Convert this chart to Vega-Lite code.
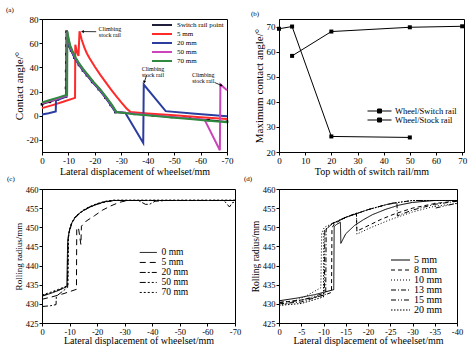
{
"$schema":"https://vega.github.io/schema/vega-lite/v6.json",
"padding":{"left":5,"top":5,"right":0,"bottom":0},
"background":"white",
"columns":2,
"align":"none",
"bounds":"flush",
"spacing":{"row":37,"column":44},
"resolve":{"scale":{"x":"independent","y":"independent","color":"independent","strokeDash":"independent"},"legend":{"color":"independent","strokeDash":"independent"}},
"config":{
 "font":"Liberation Serif",
 "view":{"stroke":"black","strokeWidth":1},
 "axis":{"grid":false,"domainColor":"black","tickColor":"black","labelColor":"black","titleColor":"black","labelFont":"Liberation Serif","titleFont":"Liberation Serif","titleFontWeight":"normal","labelFontSize":9,"titleFontSize":10,"tickSize":3,"labelPadding":1,"titlePadding":2,"labelFlush":false,"labelOverlap":false},
 "legend":{"labelFont":"Liberation Serif","labelColor":"black","orient":"none","title":null},
 "title":{"font":"Liberation Serif","fontWeight":"normal","color":"black","fontSize":7,"anchor":"start","frame":"group"}
},
"datasets":{
"A":[
{"s":"Switch rail point","x":0,"y":9.5},{"s":"Switch rail point","x":-3,"y":11.5},{"s":"Switch rail point","x":-6,"y":13.5},{"s":"Switch rail point","x":-9.1,"y":16},{"s":"Switch rail point","x":-9.1,"y":23},{"s":"Switch rail point","x":-9.15,"y":30},{"s":"Switch rail point","x":-9.15,"y":37},{"s":"Switch rail point","x":-9.2,"y":44},{"s":"Switch rail point","x":-9.2,"y":51},{"s":"Switch rail point","x":-9.25,"y":58},{"s":"Switch rail point","x":-9.3,"y":64},{"s":"Switch rail point","x":-9.3,"y":69.5},{"s":"Switch rail point","x":-9.8,"y":63},{"s":"Switch rail point","x":-10.3,"y":57.5},{"s":"Switch rail point","x":-11,"y":54},{"s":"Switch rail point","x":-12.3,"y":48},{"s":"Switch rail point","x":-14,"y":42},{"s":"Switch rail point","x":-15.5,"y":37.5},{"s":"Switch rail point","x":-17,"y":33.5},{"s":"Switch rail point","x":-19,"y":28},{"s":"Switch rail point","x":-21.5,"y":22},{"s":"Switch rail point","x":-24,"y":15},{"s":"Switch rail point","x":-26,"y":9},{"s":"Switch rail point","x":-27.8,"y":3},{"s":"Switch rail point","x":-35,"y":1.6},{"s":"Switch rail point","x":-42,"y":0.2},{"s":"Switch rail point","x":-49,"y":-1},{"s":"Switch rail point","x":-56,"y":-2.3},{"s":"Switch rail point","x":-63,"y":-3.6},{"s":"Switch rail point","x":-70,"y":-5},
{"s":"5 mm","x":0,"y":6.3},{"s":"5 mm","x":-4,"y":8.8},{"s":"5 mm","x":-8,"y":11.5},{"s":"5 mm","x":-12.5,"y":14.8},{"s":"5 mm","x":-12.6,"y":58.7},{"s":"5 mm","x":-13.2,"y":53},{"s":"5 mm","x":-13.8,"y":49.5},{"s":"5 mm","x":-14.2,"y":69.8},{"s":"5 mm","x":-15,"y":63},{"s":"5 mm","x":-16,"y":56.5},{"s":"5 mm","x":-17,"y":51.5},{"s":"5 mm","x":-18,"y":47.5},{"s":"5 mm","x":-20,"y":40.5},{"s":"5 mm","x":-22,"y":34},{"s":"5 mm","x":-24,"y":28},{"s":"5 mm","x":-26,"y":22},{"s":"5 mm","x":-28,"y":16.5},{"s":"5 mm","x":-30,"y":11},{"s":"5 mm","x":-32,"y":6},{"s":"5 mm","x":-33.5,"y":3},{"s":"5 mm","x":-40,"y":1.9},{"s":"5 mm","x":-50,"y":0.3},{"s":"5 mm","x":-60,"y":-1.2},{"s":"5 mm","x":-70,"y":-2.8},
{"s":"20 mm","x":0,"y":1},{"s":"20 mm","x":-2.5,"y":2},{"s":"20 mm","x":-5.2,"y":3.5},{"s":"20 mm","x":-5.3,"y":12.8},{"s":"20 mm","x":-8,"y":14.8},{"s":"20 mm","x":-9.2,"y":15.8},{"s":"20 mm","x":-9.3,"y":69},{"s":"20 mm","x":-9.8,"y":62.5},{"s":"20 mm","x":-10.3,"y":57.5},{"s":"20 mm","x":-11,"y":54},{"s":"20 mm","x":-12.3,"y":48},{"s":"20 mm","x":-14,"y":42},{"s":"20 mm","x":-15.5,"y":37.5},{"s":"20 mm","x":-17,"y":33.5},{"s":"20 mm","x":-19,"y":28},{"s":"20 mm","x":-21.5,"y":22},{"s":"20 mm","x":-24,"y":15},{"s":"20 mm","x":-26,"y":9},{"s":"20 mm","x":-27.8,"y":3},{"s":"20 mm","x":-31.5,"y":2.4},{"s":"20 mm","x":-38.3,"y":-22.5},{"s":"20 mm","x":-38.5,"y":25.8},{"s":"20 mm","x":-46.8,"y":3.8},{"s":"20 mm","x":-58,"y":1.6},{"s":"20 mm","x":-70,"y":-0.5},
{"s":"50 mm","x":0,"y":10.2},{"s":"50 mm","x":-4,"y":12.8},{"s":"50 mm","x":-9.4,"y":16.8},{"s":"50 mm","x":-9.5,"y":69.5},{"s":"50 mm","x":-10,"y":63},{"s":"50 mm","x":-10.6,"y":57.5},{"s":"50 mm","x":-11.4,"y":53.5},{"s":"50 mm","x":-12.6,"y":48},{"s":"50 mm","x":-14.3,"y":42},{"s":"50 mm","x":-15.8,"y":37.5},{"s":"50 mm","x":-17.3,"y":33.5},{"s":"50 mm","x":-19.3,"y":28},{"s":"50 mm","x":-21.8,"y":22},{"s":"50 mm","x":-24.3,"y":15},{"s":"50 mm","x":-26.3,"y":9},{"s":"50 mm","x":-28.1,"y":3},{"s":"50 mm","x":-40,"y":0.6},{"s":"50 mm","x":-50,"y":-1.3},{"s":"50 mm","x":-61.5,"y":-3.2},{"s":"50 mm","x":-67.3,"y":-28.5},{"s":"50 mm","x":-67.5,"y":25.8},{"s":"50 mm","x":-70,"y":21},
{"s":"70 mm","x":0,"y":11},{"s":"70 mm","x":-3,"y":13},{"s":"70 mm","x":-6,"y":15},{"s":"70 mm","x":-9.5,"y":17.4},{"s":"70 mm","x":-9.6,"y":69.8},{"s":"70 mm","x":-10.1,"y":63.5},{"s":"70 mm","x":-10.7,"y":58},{"s":"70 mm","x":-11.5,"y":53.8},{"s":"70 mm","x":-12.7,"y":48.2},{"s":"70 mm","x":-14.4,"y":42.2},{"s":"70 mm","x":-15.9,"y":37.7},{"s":"70 mm","x":-17.4,"y":33.7},{"s":"70 mm","x":-19.4,"y":28.2},{"s":"70 mm","x":-21.9,"y":22.2},{"s":"70 mm","x":-24.4,"y":15.2},{"s":"70 mm","x":-26.4,"y":9.2},{"s":"70 mm","x":-28.2,"y":3},{"s":"70 mm","x":-35,"y":1.3},{"s":"70 mm","x":-42,"y":-0.1},{"s":"70 mm","x":-49,"y":-1.5},{"s":"70 mm","x":-56,"y":-2.8},{"s":"70 mm","x":-63,"y":-4.1},{"s":"70 mm","x":-70,"y":-5.4}
],
"B":[
{"s":"Wheel/Switch rail","x":0,"y":69.1},{"s":"Wheel/Switch rail","x":5,"y":70},{"s":"Wheel/Switch rail","x":20,"y":26.2},{"s":"Wheel/Switch rail","x":50,"y":25.8},
{"s":"Wheel/Stock rail","x":5,"y":58.3},{"s":"Wheel/Stock rail","x":20,"y":68},{"s":"Wheel/Stock rail","x":50,"y":69.7},{"s":"Wheel/Stock rail","x":70,"y":70.1}
],
"C":[
{"s":"0 mm","x":0,"y":432},{"s":"0 mm","x":-3,"y":432.7},{"s":"0 mm","x":-6,"y":433.5},{"s":"0 mm","x":-9,"y":434.5},{"s":"0 mm","x":-9.3,"y":446},{"s":"0 mm","x":-9.6,"y":448},{"s":"0 mm","x":-10,"y":449.3},{"s":"0 mm","x":-10.7,"y":451},{"s":"0 mm","x":-12,"y":452.6},{"s":"0 mm","x":-13.5,"y":453.6},{"s":"0 mm","x":-15,"y":454.4},{"s":"0 mm","x":-17,"y":455.2},{"s":"0 mm","x":-20,"y":456.1},{"s":"0 mm","x":-23,"y":456.7},{"s":"0 mm","x":-26,"y":457},{"s":"0 mm","x":-70,"y":457},
{"s":"5 mm","x":0,"y":431.2},{"s":"5 mm","x":-4,"y":431.9},{"s":"5 mm","x":-8,"y":432.7},{"s":"5 mm","x":-12.5,"y":433.8},{"s":"5 mm","x":-12.6,"y":449.4},{"s":"5 mm","x":-13.2,"y":450},{"s":"5 mm","x":-14.1,"y":445.5},{"s":"5 mm","x":-14.3,"y":450.3},{"s":"5 mm","x":-16,"y":451.6},{"s":"5 mm","x":-19,"y":453},{"s":"5 mm","x":-22,"y":454.5},{"s":"5 mm","x":-25,"y":455.6},{"s":"5 mm","x":-28,"y":456.5},{"s":"5 mm","x":-31,"y":457},{"s":"5 mm","x":-70,"y":457},
{"s":"20 mm","x":0,"y":429.3},{"s":"20 mm","x":-3,"y":429.5},{"s":"20 mm","x":-5.1,"y":429.8},{"s":"20 mm","x":-5.2,"y":432},{"s":"20 mm","x":-7,"y":433},{"s":"20 mm","x":-9.3,"y":434.3},{"s":"20 mm","x":-9.5,"y":447},{"s":"20 mm","x":-10,"y":449},{"s":"20 mm","x":-10.8,"y":451},{"s":"20 mm","x":-12,"y":452.4},{"s":"20 mm","x":-13.5,"y":453.5},{"s":"20 mm","x":-15,"y":454.3},{"s":"20 mm","x":-17,"y":455.1},{"s":"20 mm","x":-20,"y":456},{"s":"20 mm","x":-23,"y":456.6},{"s":"20 mm","x":-26,"y":457},{"s":"20 mm","x":-35,"y":457},{"s":"20 mm","x":-37.5,"y":456},{"s":"20 mm","x":-39,"y":456},{"s":"20 mm","x":-41,"y":456.8},{"s":"20 mm","x":-45,"y":457},{"s":"20 mm","x":-70,"y":457},
{"s":"50 mm","x":0,"y":432.1},{"s":"50 mm","x":-3,"y":432.8},{"s":"50 mm","x":-6,"y":433.6},{"s":"50 mm","x":-9.2,"y":434.6},{"s":"50 mm","x":-9.4,"y":446.5},{"s":"50 mm","x":-9.7,"y":448.2},{"s":"50 mm","x":-10,"y":449.3},{"s":"50 mm","x":-10.7,"y":451},{"s":"50 mm","x":-12,"y":452.6},{"s":"50 mm","x":-13.5,"y":453.6},{"s":"50 mm","x":-15,"y":454.4},{"s":"50 mm","x":-17,"y":455.2},{"s":"50 mm","x":-20,"y":456.1},{"s":"50 mm","x":-23,"y":456.7},{"s":"50 mm","x":-26,"y":457},{"s":"50 mm","x":-66,"y":457},{"s":"50 mm","x":-68,"y":455.3},{"s":"50 mm","x":-69,"y":456.4},{"s":"50 mm","x":-70,"y":456.6},
{"s":"70 mm","x":0,"y":432.3},{"s":"70 mm","x":-3,"y":433},{"s":"70 mm","x":-6,"y":433.8},{"s":"70 mm","x":-9.4,"y":434.8},{"s":"70 mm","x":-9.6,"y":447.5},{"s":"70 mm","x":-10,"y":449.4},{"s":"70 mm","x":-10.7,"y":451.1},{"s":"70 mm","x":-12,"y":452.7},{"s":"70 mm","x":-13.5,"y":453.7},{"s":"70 mm","x":-15,"y":454.5},{"s":"70 mm","x":-17,"y":455.3},{"s":"70 mm","x":-20,"y":456.2},{"s":"70 mm","x":-23,"y":456.8},{"s":"70 mm","x":-26,"y":457.1},{"s":"70 mm","x":-70,"y":457.1}
],
"D":[
{"s":"5 mm","x":0,"y":430.8},{"s":"5 mm","x":-4,"y":431.5},{"s":"5 mm","x":-8,"y":432.4},{"s":"5 mm","x":-12.3,"y":433.7},{"s":"5 mm","x":-12.4,"y":450.2},{"s":"5 mm","x":-13,"y":450.8},{"s":"5 mm","x":-13.8,"y":451.3},{"s":"5 mm","x":-13.9,"y":445.8},{"s":"5 mm","x":-15,"y":448.3},{"s":"5 mm","x":-17,"y":450.5},{"s":"5 mm","x":-19,"y":452},{"s":"5 mm","x":-21,"y":453.3},{"s":"5 mm","x":-24,"y":454.7},{"s":"5 mm","x":-27,"y":455.8},{"s":"5 mm","x":-30,"y":456.5},{"s":"5 mm","x":-35,"y":457},{"s":"5 mm","x":-40,"y":457},
{"s":"8 mm","x":0,"y":430.3},{"s":"8 mm","x":-5,"y":431},{"s":"8 mm","x":-10,"y":432.2},{"s":"8 mm","x":-11.8,"y":433},{"s":"8 mm","x":-11.9,"y":449.8},{"s":"8 mm","x":-12.5,"y":451},{"s":"8 mm","x":-15,"y":452.6},{"s":"8 mm","x":-17.4,"y":453.7},{"s":"8 mm","x":-17.5,"y":449},{"s":"8 mm","x":-20,"y":450.4},{"s":"8 mm","x":-23,"y":452.1},{"s":"8 mm","x":-26,"y":453.5},{"s":"8 mm","x":-30,"y":455},{"s":"8 mm","x":-35,"y":456.2},{"s":"8 mm","x":-40,"y":456.9},
{"s":"10 mm","x":0,"y":429.5},{"s":"10 mm","x":-3,"y":430.5},{"s":"10 mm","x":-6,"y":432},{"s":"10 mm","x":-9.4,"y":434.2},{"s":"10 mm","x":-9.6,"y":448.5},{"s":"10 mm","x":-10.2,"y":450},{"s":"10 mm","x":-12,"y":451},{"s":"10 mm","x":-15,"y":452.6},{"s":"10 mm","x":-17.4,"y":453.7},{"s":"10 mm","x":-17.5,"y":448.2},{"s":"10 mm","x":-20,"y":449.6},{"s":"10 mm","x":-25,"y":452},{"s":"10 mm","x":-30,"y":454},{"s":"10 mm","x":-35,"y":455.5},{"s":"10 mm","x":-40,"y":456.2},
{"s":"13 mm","x":0,"y":430},{"s":"13 mm","x":-5,"y":430.5},{"s":"13 mm","x":-10.5,"y":432.5},{"s":"13 mm","x":-10.6,"y":449.5},{"s":"13 mm","x":-12,"y":451},{"s":"13 mm","x":-15,"y":452.6},{"s":"13 mm","x":-20,"y":454.6},{"s":"13 mm","x":-24,"y":455.9},{"s":"13 mm","x":-26.5,"y":456.4},{"s":"13 mm","x":-26.6,"y":453},{"s":"13 mm","x":-30,"y":454.5},{"s":"13 mm","x":-35,"y":456},{"s":"13 mm","x":-40,"y":456.8},
{"s":"15 mm","x":0,"y":430.4},{"s":"15 mm","x":-5,"y":430.9},{"s":"15 mm","x":-10.2,"y":432.8},{"s":"15 mm","x":-10.3,"y":449.3},{"s":"15 mm","x":-12,"y":451},{"s":"15 mm","x":-15,"y":452.6},{"s":"15 mm","x":-20,"y":454.6},{"s":"15 mm","x":-25,"y":456.2},{"s":"15 mm","x":-30,"y":457},{"s":"15 mm","x":-35,"y":457},{"s":"15 mm","x":-35.1,"y":455},{"s":"15 mm","x":-40,"y":456.3},
{"s":"20 mm","x":0,"y":429.6},{"s":"20 mm","x":-5,"y":430.1},{"s":"20 mm","x":-10,"y":431.8},{"s":"20 mm","x":-10.1,"y":449},{"s":"20 mm","x":-12,"y":450.9},{"s":"20 mm","x":-15,"y":452.6},{"s":"20 mm","x":-20,"y":454.6},{"s":"20 mm","x":-25,"y":456.2},{"s":"20 mm","x":-30,"y":457},{"s":"20 mm","x":-40,"y":457}
]
},
"concat":[
 {"width":185,"height":133,
  "title":{"text":"(a)","dx":-36,"offset":2},
  "data":{"name":"A"},
  "encoding":{
   "x":{"field":"x","type":"quantitative","scale":{"domain":[0,-70],"nice":false},"axis":{"values":[0,-10,-20,-30,-40,-50,-60,-70],"labelExpr":"'' + datum.value","title":"Lateral displacement of wheelset/mm","titlePadding":1}},
   "y":{"field":"y","type":"quantitative","scale":{"domain":[-30,80],"nice":false,"zero":false},"axis":{"values":[-20,0,20,40,60,80],"labelExpr":"'' + datum.value","title":"Contact angle/°","titleFontSize":11}}
  },
  "layer":[
   {"transform":[{"filter":"datum.s === 'Switch rail point'"}],"mark":{"type":"line","strokeWidth":1.5},
    "encoding":{"color":{"field":"s","type":"nominal","scale":{"domain":["Switch rail point","5 mm","20 mm","50 mm","70 mm"],"range":["#20203c","#ff2a2a","#2b3d9e","#cc44bb","#2e8a3e"]},"legend":{"legendX":115,"legendY":1,"symbolType":"M-2.5,0L2.5,0","symbolStrokeWidth":2,"symbolSize":64,"labelFontSize":7,"rowPadding":-1.5,"labelOffset":10}},"order":{"value":null}}},
   {"transform":[{"filter":"datum.s === 'Switch rail point'"}],"mark":{"type":"point","shape":"square","filled":true,"size":7,"color":"black","opacity":1}},
   {"transform":[{"filter":"datum.s !== 'Switch rail point'"}],"mark":{"type":"line","strokeWidth":2},
    "encoding":{"color":{"field":"s","type":"nominal"},"order":{"value":null}}},
   {"data":{"values":[{"x":-25.7,"y":71.5,"t":"Climbing\nstock rail"},{"x":-42,"y":39,"t":"Climbing\nstock rail"},{"x":-61,"y":34,"t":"Climbing\nstock rail"}]},
    "mark":{"type":"text","fontSize":6,"lineHeight":6,"lineBreak":"\n","color":"black"},"encoding":{"text":{"field":"t","type":"nominal"}}},
   {"data":{"values":[{"x":-20.5,"y":69.5,"x2":-15.3,"y2":69.6,"a":270},{"x":-39.6,"y":33.5,"x2":-38.7,"y2":27.8,"a":190},{"x":-65.3,"y":27.5,"x2":-67.9,"y2":25,"a":115}]},
    "layer":[
     {"mark":{"type":"rule","strokeWidth":0.8,"color":"black"},"encoding":{"x2":{"field":"x2"},"y2":{"field":"y2"}}},
     {"mark":{"type":"point","shape":"triangle-up","filled":true,"size":10,"color":"black","opacity":1},"encoding":{"x":{"field":"x2","type":"quantitative"},"y":{"field":"y2","type":"quantitative"},"angle":{"field":"a","type":"quantitative","scale":null}}}
    ]}
  ]},
 {"width":185,"height":133,
  "title":{"text":"(b)","dx":-28,"offset":2},
  "data":{"name":"B"},
  "encoding":{
   "x":{"field":"x","type":"quantitative","scale":{"domain":[0,70.7],"nice":false},"axis":{"values":[0,10,20,30,40,50,60,70],"title":"Top width of  switch rail/mm","titlePadding":1}},
   "y":{"field":"y","type":"quantitative","scale":{"domain":[20,73],"nice":false,"zero":false},"axis":{"values":[20,30,40,50,60,70],"title":"Maximum contact angle/°","titleFontSize":11}}
  },
  "layer":[
   {"mark":{"type":"line","strokeWidth":1,"color":"black"},
    "encoding":{"color":{"field":"s","type":"nominal","scale":{"domain":["Wheel/Switch rail","Wheel/Stock rail"],"range":["black","black"]},"legend":{"legendX":96,"legendY":87.5,"symbolType":"M-3,0L3,0M-0.5,-0.5L0.5,-0.5L0.5,0.5L-0.5,0.5Z","symbolSize":64,"symbolStrokeWidth":1,"labelFontSize":8.5,"rowPadding":-3,"labelOffset":11,"encode":{"symbols":{"update":{"fill":{"value":"black"},"stroke":{"value":"black"}}}}}},"order":{"value":null}}},
   {"mark":{"type":"point","shape":"square","filled":true,"size":16,"color":"black","opacity":1}}
  ]},
 {"width":193,"height":134,
  "title":{"text":"(c)","dx":-35,"offset":3},
  "data":{"name":"C"},
  "mark":{"type":"line","strokeWidth":1,"color":"black"},
  "encoding":{
   "x":{"field":"x","type":"quantitative","scale":{"domain":[0,-70],"nice":false},"axis":{"values":[0,-10,-20,-30,-40,-50,-60,-70],"labelExpr":"'' + datum.value","title":"Lateral displacement of wheelset/mm","titlePadding":0,"labelFontSize":8.5}},
   "y":{"field":"y","type":"quantitative","scale":{"domain":[425,460],"nice":false,"zero":false},"axis":{"values":[425,430,435,440,445,450,455,460],"title":"Rolling radius/mm","titleFontSize":9,"labelFontSize":8.5}},
   "strokeDash":{"field":"s","type":"nominal","scale":{"domain":["0 mm","5 mm","20 mm","50 mm","70 mm"],"range":[[1,0],[6,4],[6,2,2,2],[6,2,2,2,2,2],[2,2]]},"legend":{"legendX":101.5,"legendY":58.7,"symbolType":"M-2.125,0L2.125,0","symbolSize":64,"symbolStrokeWidth":1,"symbolStrokeColor":"black","labelFontSize":9.5,"rowPadding":-5,"labelOffset":8.5}},
   "order":{"value":null}
  }},
 {"width":178,"height":134,
  "title":{"text":"(d)","dx":-35,"offset":3},
  "data":{"name":"D"},
  "mark":{"type":"line","strokeWidth":1,"color":"black"},
  "encoding":{
   "x":{"field":"x","type":"quantitative","scale":{"domain":[0,-40],"nice":false},"axis":{"values":[0,-5,-10,-15,-20,-25,-30,-35,-40],"labelExpr":"'' + datum.value","title":"Lateral displacement of wheelset/mm","titlePadding":0,"labelFontSize":8.5}},
   "y":{"field":"y","type":"quantitative","scale":{"domain":[425,460],"nice":false,"zero":false},"axis":{"values":[425,430,435,440,445,450,455,460],"title":"Rolling radius/mm","titleFontSize":9.5,"labelFontSize":8.5}},
   "strokeDash":{"field":"s","type":"nominal","scale":{"domain":["5 mm","8 mm","10 mm","13 mm","15 mm","20 mm"],"range":[[1,0],[4,3],[1,2],[5,2,1,2],[5,2,1,2,1,2],[1.5,1.5]]},"legend":{"legendX":116.5,"legendY":66,"symbolType":"M-2.375,0L2.375,0","symbolSize":64,"symbolStrokeWidth":1,"symbolStrokeColor":"black","labelFontSize":10,"rowPadding":-4,"labelOffset":8.5}},
   "order":{"value":null}
  }}
]
}
